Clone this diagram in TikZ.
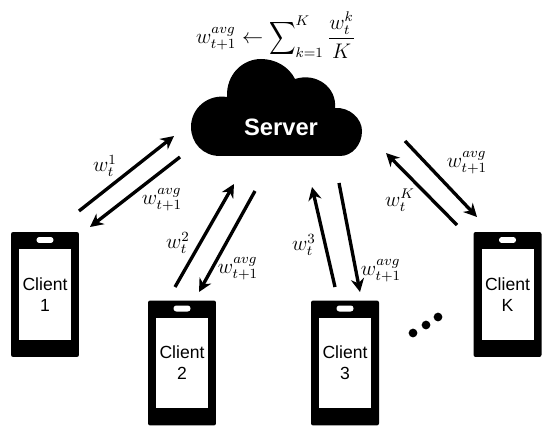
\documentclass[tikz,border=0pt]{standalone}
\usepackage{fontspec}
\setmainfont{Liberation Sans}
\usetikzlibrary{arrows.meta}
\tikzset{
  phonebody/.style={fill=black, rounded corners=1.2pt, minimum width=1.36cm, minimum height=2.5cm, inner sep=0pt},
  phonescreen/.style={fill=white, minimum width=1.04cm, minimum height=1.82cm, inner sep=0pt, align=center, font=\fontsize{10}{12}\selectfont},
  phonespeaker/.style={fill=white, rounded corners=1.6pt, minimum width=0.34cm, minimum height=0.12cm, inner sep=0pt},
  flowarrow/.style={line width=1.9pt, -{Stealth[length=7.5pt,width=7.5pt]}},
  weightlabel/.style={inner sep=0pt, font=\fontsize{11.5}{13}\selectfont},
  dotmark/.style={fill=black, circle, minimum size=0.175cm, inner sep=0pt}
}
\newcommand{\bigsum}{\mathop{\vcenter{\hbox{\scalebox{1.05}[1.3]{$\displaystyle\sum$}}}}}

\begin{document}
\begin{tikzpicture}[x=0.02cm, y=-0.02cm]
  \useasboundingbox (0,0) rectangle (550,435);
  \fill[white] (0,0) rectangle (550,435);

  % Server cloud
  \fill[black] (220,156) .. controls (203,156) and (191,143) .. (191,127)
    .. controls (191,108) and (208,94) .. (227,97)
    .. controls (226,74) and (243,59) .. (261,59)
    .. controls (276,59) and (289,67) .. (295,79)
    .. controls (317,72) and (337,88) .. (335,108)
    .. controls (350,107) and (362,119) .. (362,131)
    .. controls (362,145) and (352,156) .. (340,156) -- cycle;
  \node[text=white, font=\fontsize{13.5}{16}\selectfont\bfseries] (server) at (281,127) {Server};

  % Averaging formula
  \node[weightlabel] (avgrule) at (276,35) {$\displaystyle w_{t+1}^{avg} \leftarrow \bigsum\nolimits_{k=1}^{K} \frac{w_t^k}{K}$};

  % Clients
  \foreach \nm/\px/\py/\lbl in {client1/45/294.5/1, client2/182/363/2, client3/345/363/3, clientK/507.5/294.5/K} {
    \node[phonebody] (\nm body) at (\px,\py) {};
    \node[phonescreen] (\nm) at (\px,\py) {Client\\\lbl};
    \node[phonespeaker] (\nm spk) at (\px,\py-54.5) {};
  }

  % Uploads and downloads
  \foreach \nm/\ax/\ay/\bx/\by in {upa/79/211/174/136, downa/180/157/90/227, upb/175/287/234/184, downb/255/191/199/292, upc/335/287/312/187, downc/339/183/360/292, upk/457/225/386/153, downk/405/141/477/217} {
    \coordinate (\nm s) at (\ax,\ay);
    \coordinate (\nm e) at (\bx,\by);
    \draw[flowarrow] (\nm s) -- (\nm e);
  }

  % Weight labels
  \node[weightlabel] (wup1) at (105,166) {$w_t^1$};
  \node[weightlabel] (wdown1) at (162,200) {$w_{t+1}^{avg}$};
  \node[weightlabel] (wup2) at (178,243) {$w_t^2$};
  \node[weightlabel] (wdown2) at (238,269) {$w_{t+1}^{avg}$};
  \node[weightlabel] (wup3) at (304,245) {$w_t^3$};
  \node[weightlabel] (wdown3) at (381,271) {$w_{t+1}^{avg}$};
  \node[weightlabel] (wupk) at (400,200) {$w_t^K$};
  \node[weightlabel] (wdownk) at (467,163) {$w_{t+1}^{avg}$};

  % Ellipsis dots
  \node[dotmark] (dota) at (413,333) {};
  \node[dotmark] (dotb) at (426,325) {};
  \node[dotmark] (dotc) at (438,317) {};
\end{tikzpicture}
\end{document}
